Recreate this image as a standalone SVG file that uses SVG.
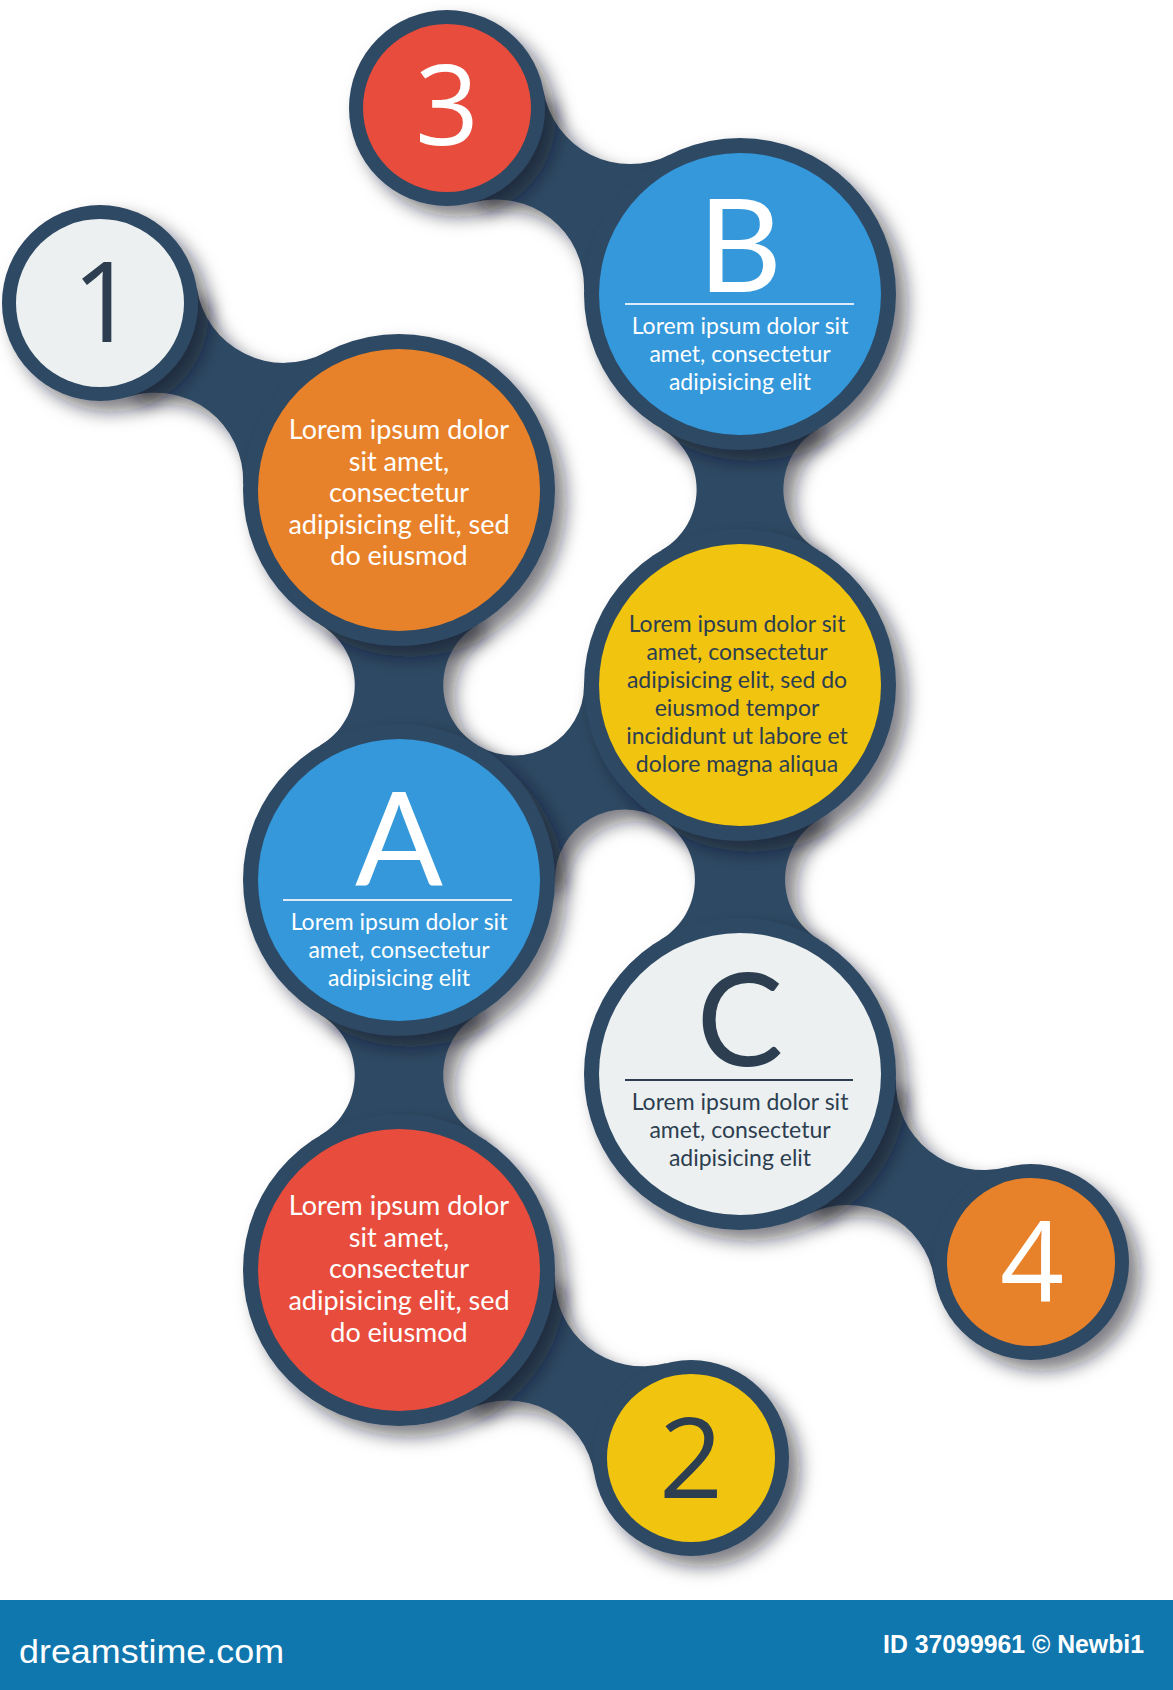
<svg xmlns="http://www.w3.org/2000/svg" width="1173" height="1690" viewBox="0 0 1173 1690">
<defs>
<filter id="sh" x="-30%" y="-30%" width="170%" height="170%">
<feDropShadow dx="11" dy="11" stdDeviation="9" flood-color="#0d1620" flood-opacity="0.55"/>
</filter>
<style>
.ring{fill:#2f4863;}
.neck{fill:#2f4863;}
.blue{fill:#3498db;} .orange{fill:#e8822a;} .red{fill:#e74c3c;} .yellow{fill:#f1c40f;} .light{fill:#ecf0f1;}
text{font-family:Lato,"Open Sans","Liberation Sans",sans-serif;text-anchor:middle;}
.w{fill:#ffffff;} .d{fill:#2c3e50;}
.p{font-size:23px;} .pl{font-size:27px;} .big{font-size:130px;}
.num{font-size:112px;font-family:"Open Sans","Noto Sans",sans-serif;}
.lw{stroke:#dcebf7;stroke-width:2;} .ld{stroke:#2c3e50;stroke-width:2;}
</style>
</defs>
<rect width="1173" height="1690" fill="#ffffff"/>

<g id="connectors" filter="url(#sh)">
<path class="neck" d="M 447 108 L 472.87 202.53 A 88 88 0 0 1 584.07 289.79 L 740 294 L 669.83 154.68 A 88 88 0 0 1 543.55 91.19 Z"/>
<path class="neck" d="M 100 303 L 129.07 396.59 A 88 88 0 0 1 243.11 484.01 L 399 490 L 325.39 352.46 A 88 88 0 0 1 196.87 288.18 Z"/>
<path class="neck" d="M 399 490 L 477.86 624.6 A 70 70 0 0 0 477.86 745.4 L 399 880 L 320.14 745.4 A 70 70 0 0 0 320.14 624.6 Z"/>
<path class="neck" d="M 740 294 L 818.26 428.95 A 70 70 0 0 0 818.26 550.05 L 740 685 L 661.74 550.05 A 70 70 0 0 0 661.74 428.95 Z"/>
<path class="neck" d="M 399 880 L 555 879.69 A 70 70 0 0 1 660.62 819.29 L 740 685 L 584 685.31 A 70 70 0 0 1 478.38 745.71 Z"/>
<path class="neck" d="M 740 685 L 819.44 819.26 A 70 70 0 0 0 819.44 939.74 L 740 1074 L 660.56 939.74 A 70 70 0 0 0 660.56 819.26 Z"/>
<path class="neck" d="M 399 880 L 477.86 1014.6 A 70 70 0 0 0 477.86 1135.4 L 399 1270 L 320.14 1135.4 A 70 70 0 0 0 320.14 1014.6 Z"/>
<path class="neck" d="M 399 1270 L 468.38 1409.72 A 88 88 0 0 1 594.33 1474.09 L 691 1458 L 665.64 1363.34 A 88 88 0 0 1 554.91 1275.33 Z"/>
<path class="neck" d="M 740 1074 L 808.79 1214.01 A 88 88 0 0 1 934.37 1278.33 L 1031 1262 L 1006.16 1167.2 A 88 88 0 0 1 895.91 1079.16 Z"/>
</g>

<g id="node-3">
<circle class="ring" cx="447" cy="108" r="98" filter="url(#sh)"/>
<circle class="red" cx="447" cy="108" r="84"/>
<text class="w num" x="447" y="145">3</text>
</g>

<g id="node-1">
<circle class="ring" cx="100" cy="303" r="98" filter="url(#sh)"/>
<circle class="light" cx="100" cy="303" r="84"/>
<text class="d num" x="104" y="342">1</text>
</g>

<g id="node-B">
<circle class="ring" cx="740" cy="294" r="156" filter="url(#sh)"/>
<circle class="blue" cx="740" cy="294" r="141"/>
<text class="w big" x="740" y="292">B</text>
<line class="lw" x1="625" y1="304" x2="854" y2="304"/>
<text class="w p" x="740" y="334">Lorem ipsum dolor sit</text>
<text class="w p" x="740" y="362">amet, consectetur</text>
<text class="w p" x="740" y="390">adipisicing elit</text>
</g>

<g id="node-orange">
<circle class="ring" cx="399" cy="490" r="156" filter="url(#sh)"/>
<circle class="orange" cx="399" cy="490" r="141"/>
<text class="w pl" x="399" y="439">Lorem ipsum dolor</text>
<text class="w pl" x="399" y="470.5">sit amet,</text>
<text class="w pl" x="399" y="502">consectetur</text>
<text class="w pl" x="399" y="533.5">adipisicing elit, sed</text>
<text class="w pl" x="399" y="565">do eiusmod</text>
</g>

<g id="node-yellow">
<circle class="ring" cx="740" cy="685" r="156" filter="url(#sh)"/>
<circle class="yellow" cx="740" cy="685" r="141"/>
<text class="d p" x="737" y="632">Lorem ipsum dolor sit</text>
<text class="d p" x="737" y="660">amet, consectetur</text>
<text class="d p" x="737" y="688">adipisicing elit, sed do</text>
<text class="d p" x="737" y="716">eiusmod tempor</text>
<text class="d p" x="737" y="744">incididunt ut labore et</text>
<text class="d p" x="737" y="772">dolore magna aliqua</text>
</g>

<g id="node-A">
<circle class="ring" cx="399" cy="880" r="156" filter="url(#sh)"/>
<circle class="blue" cx="399" cy="880" r="141"/>
<text class="w big" x="399" y="886">A</text>
<line class="lw" x1="283" y1="900" x2="512" y2="900"/>
<text class="w p" x="399" y="930">Lorem ipsum dolor sit</text>
<text class="w p" x="399" y="958">amet, consectetur</text>
<text class="w p" x="399" y="986">adipisicing elit</text>
</g>

<g id="node-C">
<circle class="ring" cx="740" cy="1074" r="156" filter="url(#sh)"/>
<circle class="light" cx="740" cy="1074" r="141"/>
<text class="d big" x="740" y="1066">C</text>
<line class="ld" x1="625" y1="1080" x2="853" y2="1080"/>
<text class="d p" x="740" y="1110">Lorem ipsum dolor sit</text>
<text class="d p" x="740" y="1138">amet, consectetur</text>
<text class="d p" x="740" y="1166">adipisicing elit</text>
</g>

<g id="node-red">
<circle class="ring" cx="399" cy="1270" r="156" filter="url(#sh)"/>
<circle class="red" cx="399" cy="1270" r="141"/>
<text class="w pl" x="399" y="1215">Lorem ipsum dolor</text>
<text class="w pl" x="399" y="1247">sit amet,</text>
<text class="w pl" x="399" y="1278">consectetur</text>
<text class="w pl" x="399" y="1310">adipisicing elit, sed</text>
<text class="w pl" x="399" y="1342">do eiusmod</text>
</g>

<g id="node-2">
<circle class="ring" cx="691" cy="1458" r="98" filter="url(#sh)"/>
<circle class="yellow" cx="691" cy="1458" r="84"/>
<text class="d num" x="691" y="1498">2</text>
</g>

<g id="node-4">
<circle class="ring" cx="1031" cy="1262" r="98" filter="url(#sh)"/>
<circle class="orange" cx="1031" cy="1262" r="84"/>
<text class="w num" x="1032" y="1302">4</text>
</g>

<g id="footer">
<rect x="0" y="1600" width="1173" height="90" fill="#0f76ae"/>
<text x="19" y="1663" fill="#ffffff" style="font-family:'Liberation Sans',sans-serif;font-size:34px;text-anchor:start" textLength="265" lengthAdjust="spacingAndGlyphs">dreamstime.com</text>
<text x="1144" y="1653" fill="#ffffff" style="font-family:'Liberation Sans',sans-serif;font-size:25px;font-weight:bold;text-anchor:end" textLength="261" lengthAdjust="spacingAndGlyphs">ID 37099961 © Newbi1</text>
</g>
</svg>
